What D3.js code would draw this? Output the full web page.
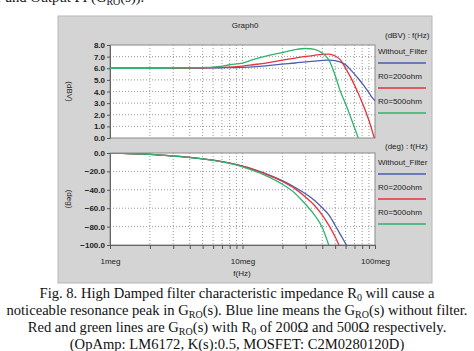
<!DOCTYPE html>
<html>
<head>
<meta charset="utf-8">
<script src="https://cdn.jsdelivr.net/npm/d3@7"></script>
<style>
  body { margin: 0; background: #fff; }
  svg { display: block; }
  .lab { font-family: "Liberation Sans", Arial, sans-serif; font-size: 8px; fill: #222; }
  .cap { font-family: "Liberation Serif", "Times New Roman", serif; font-size: 14.6px; fill: #111; }
</style>
</head>
<body>
<div id="chart"></div>
<script>
// frequency points (MHz)
const freqs = [1, 2, 3, 4, 5, 6, 7, 8, 10, 12, 15, 20, 25, 30, 35, 40, 45, 50, 55, 60, 65, 70, 75, 80, 85, 90, 95, 100];

// magnitude (dBV)
const magWithout = [6.0, 6.0, 6.0, 6.01, 6.02, 6.03, 6.04, 6.05, 6.08, 6.12, 6.2, 6.35, 6.45, 6.55, 6.62, 6.68, 6.7, 6.65, 6.52, 6.3, 5.9, 5.5, 5.1, 4.7, 4.3, 3.9, 3.5, 3.2];
const magR200 = [6.0, 6.0, 6.01, 6.02, 6.03, 6.05, 6.08, 6.1, 6.18, 6.3, 6.45, 6.7, 6.88, 7.02, 7.12, 7.2, 7.22, 7.05, 6.7, 6.0, 5.3, 4.55, 3.8, 3.05, 2.3, 1.5, 0.65, -0.2];
const magR500 = [6.0, 6.0, 6.01, 6.03, 6.06, 6.1, 6.18, 6.3, 6.45, 6.75, 7.05, 7.35, 7.6, 7.7, 7.62, 7.3, 6.7, 5.4, 3.95, 2.95, 1.9, 0.9, -0.05, -1.0, null, null, null, null];

// phase (deg)
const phWithout = [0, -1.5, -3.3, -4.8, -6.3, -7.8, -9.4, -11, -14.2, -17.5, -22.5, -30, -37.5, -44.5, -51.5, -59.5, -67.5, -78.5, -89, -98.5, -108, null, null, null, null, null, null, null];
const phR200 = [0, -1.5, -3.3, -4.8, -6.3, -7.8, -9.4, -11, -14.3, -17.7, -23, -31, -39, -48, -57, -67.5, -79, -91, -104, null, null, null, null, null, null, null, null, null];
const phR500 = [0, -1.5, -3.3, -4.9, -6.4, -8, -9.7, -11.4, -15, -18.8, -24.5, -34, -44, -56, -67.5, -81, -101, -120, null, null, null, null, null, null, null, null, null, null];

const seriesNames = ["Without_Filter", "R0=200ohm", "R0=500ohm"];
const seriesColors = ["#4a5db0", "#e4343f", "#2fb36e"];
const magTicks = [0, 1, 2, 3, 4, 5, 6, 7, 8];
const phTicks = [0, -20, -40, -60, -80, -100];
const decadeLabels = { 1: "1meg", 10: "10meg", 100: "100meg" };

const width = 474, height = 351;
const svg = d3.select("#chart").append("svg")
    .attr("width", width)
    .attr("height", height);

// cut-off line from previous paragraph
var topLine = svg.append("text").attr("class", "cap").attr("x", -3).attr("y", 2);
topLine.append("tspan").text("r and Output PI (G");
topLine.append("tspan").attr("font-size", 10).attr("baseline-shift", "-3").text("RO");
topLine.append("tspan").text("(s)).");

// gray panel
svg.append("rect")
    .attr("x", 58).attr("y", 16).attr("width", 374).attr("height", 267)
    .attr("fill", "#d4d4d4").attr("stroke", "#b8b8b8");

svg.append("text").attr("class", "lab").attr("x", 245).attr("y", 28)
    .attr("text-anchor", "middle").text("Graph0");

var x = d3.scaleLog().domain([1, 100]).range([110, 375]);
var minorFreqs = d3.range(1, 10).concat(d3.range(10, 101, 10));

function panel(opts) {
    var y = d3.scaleLinear().domain(opts.domain).range([opts.bottom, opts.top]);
    var g = svg.append("g");
    g.append("rect")
        .attr("x", 110).attr("y", opts.top)
        .attr("width", 265).attr("height", opts.bottom - opts.top)
        .attr("fill", "#fff").attr("stroke", "#8a8a8a");

    // dotted grid
    g.append("g").selectAll("line").data(minorFreqs.filter(f => f > 1 && f < 100)).join("line")
        .attr("x1", d => x(d)).attr("x2", d => x(d))
        .attr("y1", opts.top).attr("y2", opts.bottom)
        .attr("stroke", "#999").attr("stroke-dasharray", "1,2");
    g.append("g").selectAll("line").data(opts.ticks.slice(1, -1)).join("line")
        .attr("x1", 110).attr("x2", 375)
        .attr("y1", d => y(d)).attr("y2", d => y(d))
        .attr("stroke", "#999").attr("stroke-dasharray", "1,2");

    var yAxis = g.append("g").attr("transform", "translate(110,0)")
        .call(d3.axisLeft(y).tickValues(opts.ticks).tickSize(3).tickPadding(2).tickFormat(d3.format(".1f")));
    yAxis.select(".domain").attr("stroke", "#666");
    yAxis.selectAll("line").attr("stroke", "#555");
    yAxis.selectAll("text").attr("class", "lab").attr("font-weight", "bold").attr("fill", "#444");

    g.append("text").attr("class", "lab")
        .attr("transform", `translate(67,${(opts.top + opts.bottom) / 2}) rotate(90)`)
        .attr("text-anchor", "middle").text(opts.unit);

    var clipId = "clip" + opts.top;
    svg.append("clipPath").attr("id", clipId).append("rect")
        .attr("x", 110).attr("y", opts.top).attr("width", 265).attr("height", opts.bottom - opts.top);

    var line = d3.line()
        .defined(d => d[1] != null)
        .x(d => x(d[0])).y(d => y(d[1]))
        .curve(d3.curveMonotoneX);
    var lines = g.append("g").attr("clip-path", `url(#${clipId})`);
    opts.series.forEach(function (vals, i) {
        lines.append("path")
            .datum(freqs.map((f, j) => [f, vals[j]]))
            .attr("fill", "none")
            .attr("stroke", seriesColors[i])
            .attr("stroke-width", 1.3)
            .attr("d", line);
    });

    // legend
    var lg = g.append("g");
    lg.append("text").attr("class", "lab").attr("x", 385).attr("y", opts.legendTop)
        .text(opts.unit + " : f(Hz)");
    seriesNames.forEach(function (name, i) {
        var ty = opts.legendTop + 16 + i * 25;
        lg.append("text").attr("class", "lab").attr("x", 378).attr("y", ty).text(name);
        lg.append("line").attr("x1", 378).attr("x2", 426)
            .attr("y1", ty + 9).attr("y2", ty + 9)
            .attr("stroke", seriesColors[i]).attr("stroke-width", 1.3);
    });
    return y;
}

panel({ domain: [0, 8], ticks: magTicks, top: 45, bottom: 138, unit: "(dBV)",
    series: [magWithout, magR200, magR500], legendTop: 38 });
panel({ domain: [-100, 0], ticks: phTicks, top: 153, bottom: 245, unit: "(deg)",
    series: [phWithout, phR200, phR500], legendTop: 149 });

// frequency axis under the phase plot
var xAxis = svg.append("g").attr("transform", "translate(0,245)")
    .call(d3.axisBottom(x).tickValues(minorFreqs).tickSize(4).tickPadding(9)
        .tickFormat(d => decadeLabels[d] || ""));
xAxis.select(".domain").attr("stroke", "#666");
xAxis.selectAll("line").attr("stroke", "#555");
xAxis.selectAll("text").attr("class", "lab").attr("fill", "#333");
svg.append("text").attr("class", "lab").attr("x", 242).attr("y", 276)
    .attr("text-anchor", "middle").text("f(Hz)");

// caption
function sub(t, s) { return { t: t, s: s }; }
var capLines = [
    [sub("Fig. 8. High Damped filter characteristic impedance R"), sub("0", 1), sub(" will cause a")],
    [sub("noticeable resonance peak in G"), sub("RO", 1), sub("(s). Blue line means the G"), sub("RO", 1), sub("(s) without filter.")],
    [sub("Red and green lines are G"), sub("RO", 1), sub("(s) with R"), sub("0", 1), sub(" of 200Ω and 500Ω respectively.")],
    [sub("(OpAmp: LM6172, K(s):0.5, MOSFET: C2M0280120D)")]
];
capLines.forEach(function (parts, i) {
    var t = svg.append("text").attr("class", "cap")
        .attr("x", 237).attr("y", 298 + i * 17.1).attr("text-anchor", "middle");
    parts.forEach(function (p) {
        t.append("tspan")
            .attr("font-size", p.s ? 10 : null)
            .attr("baseline-shift", p.s ? "-3" : null)
            .text(p.t);
    });
});
</script>
</body>
</html>
